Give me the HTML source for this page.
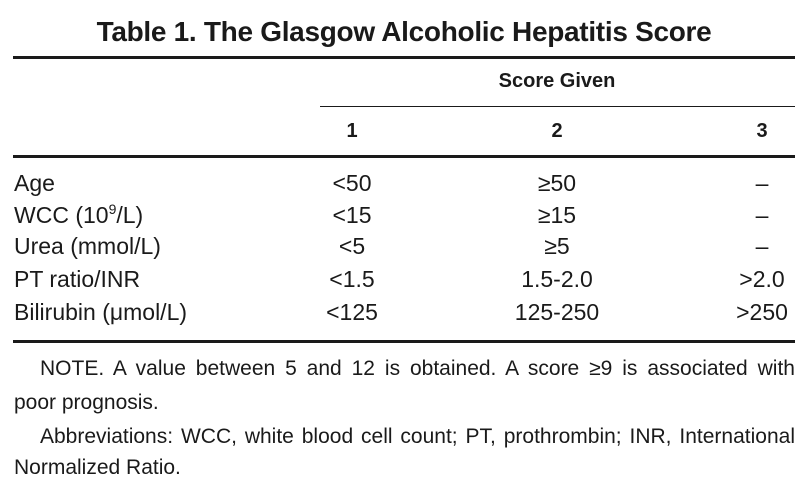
<!DOCTYPE html>
<html><head><meta charset="utf-8"><style>
body{margin:0;width:808px;height:495px;background:#fff;position:relative;overflow:hidden;font-family:"Liberation Sans Narrow","Liberation Sans",sans-serif;color:#1a1a1a}
.a{position:absolute;white-space:nowrap;line-height:1}
.ln{position:absolute;background:#1a1a1a}
.c{transform:translateX(-50%);font-size:23px}
.r{left:14px;font-size:23px}
.nl{position:absolute;font-size:21px;line-height:1;white-space:nowrap;text-align:justify;text-align-last:justify}
sup{font-size:14px;line-height:0;vertical-align:0;position:relative;top:-9px}
</style></head><body>
<div class="a" style="left:0;width:808px;text-align:center;top:18px;font-size:28px;font-weight:bold;letter-spacing:-0.3px">Table 1. The Glasgow Alcoholic Hepatitis Score</div>
<div class="ln" style="left:13px;width:782px;top:56px;height:3px"></div>
<div class="a" style="left:557px;transform:translateX(-50%);top:71px;font-size:20px;font-weight:bold">Score Given</div>
<div class="ln" style="left:320px;width:475px;top:106px;height:1px"></div>
<div class="a c" style="left:352px;top:121px;font-size:20px;font-weight:bold">1</div>
<div class="a c" style="left:557px;top:121px;font-size:20px;font-weight:bold">2</div>
<div class="a c" style="left:762px;top:121px;font-size:20px;font-weight:bold">3</div>
<div class="ln" style="left:13px;width:782px;top:155px;height:3px"></div>

<div class="a r" style="top:172px">Age</div>
<div class="a c" style="left:352px;top:172px">&lt;50</div>
<div class="a c" style="left:557px;top:172px">≥50</div>
<div class="a c" style="left:762px;top:172px">–</div>

<div class="a r" style="top:204px">WCC (10<sup>9</sup>/L)</div>
<div class="a c" style="left:352px;top:204px">&lt;15</div>
<div class="a c" style="left:557px;top:204px">≥15</div>
<div class="a c" style="left:762px;top:204px">–</div>

<div class="a r" style="top:235px">Urea (mmol/L)</div>
<div class="a c" style="left:352px;top:235px">&lt;5</div>
<div class="a c" style="left:557px;top:235px">≥5</div>
<div class="a c" style="left:762px;top:235px">–</div>

<div class="a r" style="top:268px">PT ratio/INR</div>
<div class="a c" style="left:352px;top:268px">&lt;1.5</div>
<div class="a c" style="left:557px;top:268px">1.5-2.0</div>
<div class="a c" style="left:762px;top:268px">&gt;2.0</div>

<div class="a r" style="top:301px">Bilirubin (μmol/L)</div>
<div class="a c" style="left:352px;top:301px">&lt;125</div>
<div class="a c" style="left:557px;top:301px">125-250</div>
<div class="a c" style="left:762px;top:301px">&gt;250</div>

<div class="ln" style="left:13px;width:782px;top:340px;height:3px"></div>

<div>
<div class="nl" style="left:40px;width:755px;top:358px">NOTE. A value between 5 and 12 is obtained. A score ≥9 is associated with</div>
<div class="nl" style="left:14px;top:392px;text-align-last:left">poor prognosis.</div>
</div>
<div>
<div class="nl" style="left:40px;width:755px;top:426px">Abbreviations: WCC, white blood cell count; PT, prothrombin; INR, International</div>
<div class="nl" style="left:14px;top:457px;text-align-last:left">Normalized Ratio.</div>
</div>
</body></html>
